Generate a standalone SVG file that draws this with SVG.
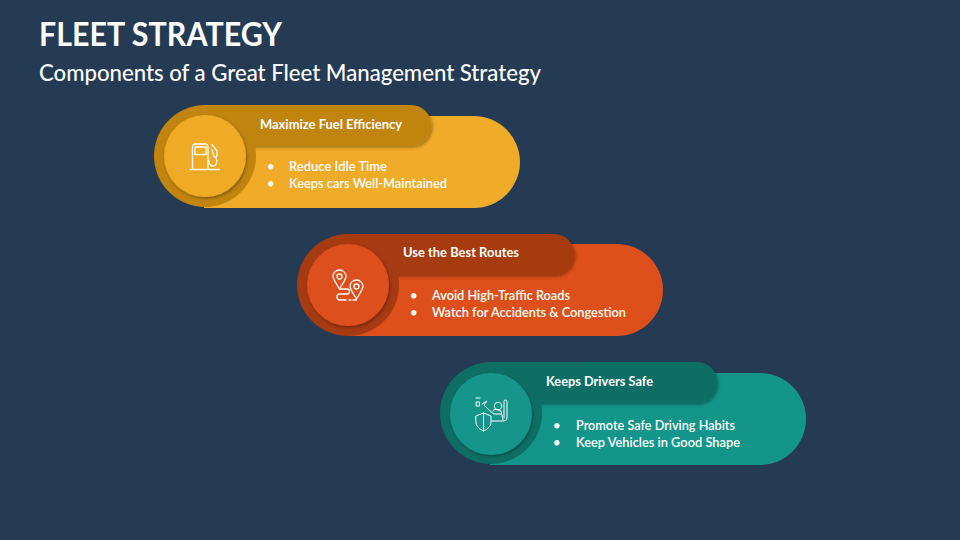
<svg xmlns="http://www.w3.org/2000/svg" width="960" height="540" viewBox="0 0 960 540">
<defs>
<filter id="sh" x="-20%" y="-20%" width="140%" height="140%"><feDropShadow dx="1" dy="1.5" stdDeviation="1.6" flood-color="#000" flood-opacity="0.35"/></filter>
</defs>
<style>
text{font-family:Lato,"Open Sans","Liberation Sans",sans-serif;fill:#fff}
.h{font-size:13px;font-weight:700}
.b{font-size:13px;font-weight:600}
.i{fill:none;stroke:#fff;stroke-width:1.3;stroke-linecap:round;stroke-linejoin:round}
.a .p,.a .c{fill:#f0ab28}.a .d{fill:#c1840e}
.r .p,.r .c{fill:#dd4f1b}.r .d{fill:#a63a11}
.t .p,.t .c{fill:#14958a}.t .d{fill:#0e6e66}
</style>
<rect width="960" height="540" fill="#253b54"/>
<text id="title" x="39" y="46" font-size="33" font-weight="700" textLength="243" lengthAdjust="spacingAndGlyphs">FLEET STRATEGY</text>
<text id="subtitle" x="39" y="81" font-size="22.5" font-weight="500" textLength="502" lengthAdjust="spacingAndGlyphs">Components of a Great Fleet Management Strategy</text>

<g id="node-fuel" class="a">
<path class="p" d="M204 116H474a46 46 0 0 1 0 92H204Z"/>
<path class="d" filter="url(#sh)" d="M205 105H411a20.500 20.500 0 0 1 0 41H240V146H205Z"/>
<circle class="d" cx="205" cy="156" r="51"/>
<path class="d" d="M205 105H300V146H205Z"/>
<circle class="c" filter="url(#sh)" cx="205" cy="156" r="41"/>
<text class="h" x="260" y="129" textLength="142" lengthAdjust="spacingAndGlyphs">Maximize Fuel Efficiency</text>
<text class="b" x="267" y="171">•</text><text class="b" x="289" y="171" textLength="98" lengthAdjust="spacingAndGlyphs">Reduce Idle Time</text>
<text class="b" x="267" y="188">•</text><text class="b" x="289" y="188" textLength="158" lengthAdjust="spacingAndGlyphs">Keeps cars Well-Maintained</text>
<g class="i">
<path d="M192.500 169V147a3 3 0 0 1 3-3H205a3 3 0 0 1 3 3V169"/><rect x="195" y="147" width="11" height="7.500"/>
<path d="M190 169.500H219.500"/>
<path d="M212 144.500L217 151V154a2 2 0 0 1-3 2.500L212 150M216 157C218 163 216 166 213 166C210 166 209 164 208.500 160"/>
</g>
</g>

<g id="node-routes" class="r">
<path class="p" d="M347 244H617a46 46 0 0 1 0 92H347Z"/>
<path class="d" filter="url(#sh)" d="M348 234H554a20.500 20.500 0 0 1 0 41H383V275H348Z"/>
<circle class="d" cx="348" cy="285" r="51"/>
<path class="d" d="M348 234H443V275H348Z"/>
<circle class="c" filter="url(#sh)" cx="348" cy="285" r="41"/>
<text class="h" x="403" y="257" textLength="116" lengthAdjust="spacingAndGlyphs">Use the Best Routes</text>
<text class="b" x="410" y="300">•</text><text class="b" x="432" y="300" textLength="138" lengthAdjust="spacingAndGlyphs">Avoid High-Traffic Roads</text>
<text class="b" x="410" y="317">•</text><text class="b" x="432" y="317" textLength="194" lengthAdjust="spacingAndGlyphs">Watch for Accidents &amp; Congestion</text>
<g class="i">
<path d="M339.500 289C336 283 333 279 333 276.500a6.500 6.500 0 0 1 13 0C346 279 343 283 339.500 289Z"/><circle cx="339.500" cy="276.500" r="2.500"/>
<path d="M356.500 299C353 293 350 289 350 286.500a6.500 6.500 0 0 1 13 0C363 289 360 293 356.500 299Z"/><circle cx="356.500" cy="286.500" r="2.500"/>
<path d="M339.500 289H347a2.500 2.500 0 0 1 0 5H340a2.500 2.500 0 0 0 0 6H346M349 300H351M353 300H356.500"/>
</g>
</g>

<g id="node-safe" class="t">
<path class="p" d="M490 373H760a46 46 0 0 1 0 92H490Z"/>
<path class="d" filter="url(#sh)" d="M491 362H697a20.500 20.500 0 0 1 0 41H526V403H491Z"/>
<circle class="d" cx="491" cy="413" r="51"/>
<path class="d" d="M491 362H586V403H491Z"/>
<circle class="c" filter="url(#sh)" cx="491" cy="414" r="41"/>
<text class="h" x="546" y="386" textLength="107" lengthAdjust="spacingAndGlyphs">Keeps Drivers Safe</text>
<text class="b" x="553" y="430">•</text><text class="b" x="576" y="430" textLength="159" lengthAdjust="spacingAndGlyphs">Promote Safe Driving Habits</text>
<text class="b" x="553" y="447">•</text><text class="b" x="576" y="447" textLength="164" lengthAdjust="spacingAndGlyphs">Keep Vehicles in Good Shape</text>
<g class="i" style="stroke-width:1">
<path d="M476 398H480M476.500 402H479.500V406H476.500Z"/>
<path d="M482 404L487 401L484 405L490 411L494 414L501 414"/>
<circle cx="498" cy="406" r="3.700"/>
<path d="M493 411C494 408 497 410 501 411L503 420"/>
<path d="M504 418V401.500a1.500 1.500 0 0 1 3 0V418a3 3 0 0 1-3 3H492"/>
<path d="M476 416L483.500 413L491 416V422C491 426 488 429 483.500 431C479 429 476 426 476 422ZM483.500 413V431"/>
</g>
</g>
</svg>
